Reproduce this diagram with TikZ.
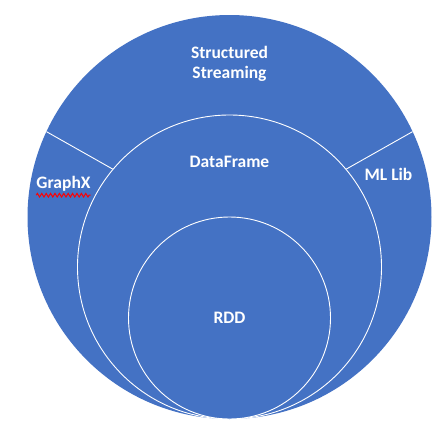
\documentclass[tikz,border=0pt]{standalone}
\usepackage{fontspec}
\setmainfont{Carlito}
\usetikzlibrary{decorations.pathmorphing}
\definecolor{officeblue}{HTML}{4472C4}
\begin{document}
\begin{tikzpicture}
    [
      x=1pt,
      y=-1pt,
      ring/.style=
      {
        circle,
        inner sep=0pt,
        outer sep=0pt,
        fill=officeblue,
      },
      edge/.style=
      {
        draw=white,
        line width=0.9pt,
      },
      txt/.style=
      {
        align=center,
        inner sep=0pt,
        text=white,
        font=\fontsize{17.5}{20.5}\selectfont\bfseries
      }
    ]
    \useasboundingbox (0,0) rectangle (448,424);
    \node[ring, minimum size=404pt](Outer) at (229.5,217) {};
    \node[ring, edge, minimum size=304pt](Frame) at (229.5,267) {};
    \node[ring, edge, minimum size=202pt](Core) at (229.5,318) {};
    % dividers
    \draw[edge] (Outer.155) -- (Frame.140);
    \draw[edge] (Outer.25) -- (Frame.40);
    % labels
    \node[txt](Streaming) at (229.5,64) {Structured\\Streaming};
    \node[txt](DataFrame) at (229.5,162) {DataFrame};
    \node[txt](GraphX) at (63.5,184) {GraphX};
    \node[txt](MLLib) at (388.5,174) {ML Lib};
    \node[txt](RDD) at (229.5,318) {RDD};
    \draw[red, line width=1pt, decorate,
          decoration={zigzag, amplitude=1.8pt, segment length=4.4pt}]
      ([yshift=-3.5pt]GraphX.south west) -- ([yshift=-3.5pt]GraphX.south east);
  \end{tikzpicture}
\end{document}
